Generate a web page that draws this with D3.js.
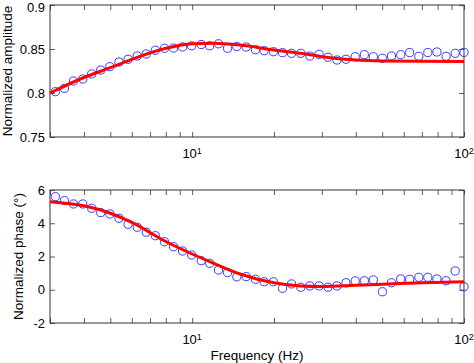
<!DOCTYPE html>
<html>
<head>
<meta charset="utf-8">
<script src="https://cdn.jsdelivr.net/npm/d3@7"></script>
<style>
  body { margin: 0; background: #fff; }
  text { font-family: "Liberation Sans", Arial, sans-serif; fill: #000; }
</style>
</head>
<body>
<div id="chart"></div>
<script>
// measured points (Hz)
var freq = [3.14, 3.39, 3.66, 3.96, 4.27, 4.61, 4.98, 5.38, 5.81, 6.28,
            6.78, 7.32, 7.91, 8.54, 9.22, 9.96, 10.8, 11.6, 12.5, 13.5,
            14.6, 15.8, 17.1, 18.4, 19.9, 21.5, 23.2, 25.1, 27.1, 29.3,
            31.6, 34.1, 36.8, 39.8, 43.0, 46.4, 50.1, 54.1, 58.5, 63.1,
            68.2, 73.6, 79.5, 85.9, 92.8, 100];
var amplitude = [0.8015, 0.8053, 0.8136, 0.8159, 0.8216, 0.8261, 0.8299, 0.8352, 0.8383, 0.8420,
                 0.8443, 0.8486, 0.8508, 0.8511, 0.8523, 0.8536, 0.8551, 0.8537, 0.8559, 0.8508,
                 0.8528, 0.8523, 0.8492, 0.8481, 0.8469, 0.8458, 0.8451, 0.8451, 0.8420, 0.8440,
                 0.8406, 0.8375, 0.8383, 0.8412, 0.8435, 0.8412, 0.8394, 0.8420, 0.8435, 0.8460,
                 0.8417, 0.8460, 0.8466, 0.8417, 0.8451, 0.8462];
var phase = [5.60, 5.36, 5.16, 5.16, 4.90, 4.64, 4.56, 4.30, 3.94, 3.76,
             3.46, 3.25, 2.89, 2.59, 2.33, 2.09, 1.75, 1.59, 1.19, 1.03,
             0.78, 0.79, 0.63, 0.48, 0.48, 0.09, 0.35, 0.15, 0.23, 0.23,
             0.15, 0.23, 0.42, 0.53, 0.54, 0.59, -0.12, 0.42, 0.65, 0.63,
             0.75, 0.75, 0.65, 0.54, 1.13, 0.18];

// model fit
var fitFreq = [3, 4, 5, 6, 8, 10, 12, 15, 20, 25, 30, 40, 50, 70, 100];
var amplitudeFit = [0.800, 0.8176, 0.8288, 0.8383, 0.8508, 0.8560, 0.8565, 0.8545,
                    0.8489, 0.8451, 0.8413, 0.8375, 0.8364, 0.8360, 0.8357];
var phaseFit = [5.30, 5.05, 4.60, 4.05, 2.90, 2.15, 1.59, 0.95,
                0.42, 0.23, 0.20, 0.27, 0.33, 0.42, 0.48];

var freqTicks = [3, 4, 5, 6, 7, 8, 9, 10, 20, 30, 40, 50, 60, 70, 80, 90, 100];
var freqLabelValues = [10, 100];
var freqLabelExps = ["1", "2"];
var ampTicks = [0.75, 0.8, 0.85, 0.9];
var phaseTicks = [-2, 0, 2, 4, 6];

var width = 474;
var height = 363;
var left = 50, right = 464;

var svg = d3.select('#chart').append('svg')
            .attr("width", width)
            .attr("height", height);

var x = d3.scaleLog().domain([3, 100]).range([left, right]);

function drawPanel(top, bottom, yDomain, yTicks, values, fit, ylabel, ylabelX){
    var y = d3.scaleLinear().domain(yDomain).range([bottom, top]);
    var g = svg.append("g");

    // ticks on all four sides, pointing inward
    g.append("g").attr("transform", "translate(0," + bottom + ")")
        .call(d3.axisBottom(x).tickValues(freqTicks).tickSize(-5).tickFormat(""));
    g.append("g").attr("transform", "translate(0," + top + ")")
        .call(d3.axisTop(x).tickValues(freqTicks).tickSize(-5).tickFormat(""));
    g.append("g").attr("transform", "translate(" + left + ",0)")
        .call(d3.axisLeft(y).tickValues(yTicks).tickSize(-5).tickFormat(""));
    g.append("g").attr("transform", "translate(" + right + ",0)")
        .call(d3.axisRight(y).tickValues(yTicks).tickSize(-5).tickFormat(""));
    g.selectAll(".domain").remove();
    g.selectAll(".tick line").attr("stroke", "#333").attr("stroke-width", 0.8);

    g.append("rect")
        .attr("x", left).attr("y", top)
        .attr("width", right - left).attr("height", bottom - top)
        .attr("fill", "none").attr("stroke", "#333").attr("stroke-width", 1);

    // y tick labels (top one kept inside the page, like the original)
    g.selectAll("text.ylab").data(yTicks).enter().append("text")
        .attr("class", "ylab")
        .attr("x", left - 5)
        .attr("y", function(d){ return Math.max(y(d), 7); })
        .attr("dy", "0.36em")
        .attr("text-anchor", "end")
        .style("font-size", "13px")
        .text(function(d){ return String(d); });

    // x tick labels 10^n
    var xl = g.selectAll("text.xlab").data(freqLabelValues).enter().append("text")
        .attr("class", "xlab")
        .attr("x", function(d){ return x(d); })
        .attr("y", bottom + 21)
        .attr("text-anchor", "middle")
        .style("font-size", "13px");
    xl.append("tspan").text("10");
    xl.append("tspan")
        .attr("dy", "-0.5em")
        .style("font-size", "9px")
        .text(function(d, i){ return freqLabelExps[i]; });

    g.append("text")
        .attr("transform", "translate(" + ylabelX + "," + ((top + bottom) / 2) + ") rotate(-90)")
        .attr("text-anchor", "middle")
        .style("font-size", "13.5px")
        .text(ylabel);

    // measured circles
    g.selectAll("circle").data(values).enter().append("circle")
        .attr("cx", function(d, i){ return x(freq[i]); })
        .attr("cy", function(d){ return y(d); })
        .attr("r", 4.1)
        .attr("fill", "none")
        .attr("stroke", "#2626ff")
        .attr("stroke-width", 0.9);

    // fitted curve
    var line = d3.line()
        .x(function(d, i){ return x(fitFreq[i]); })
        .y(function(d){ return y(d); })
        .curve(d3.curveMonotoneX);
    g.append("path")
        .datum(fit)
        .attr("d", line)
        .attr("fill", "none")
        .attr("stroke", "#ff0000")
        .attr("stroke-width", 3);
}

drawPanel(5, 137, [0.75, 0.9], ampTicks, amplitude, amplitudeFit, "Normalized amplitude", 11.5);
drawPanel(190, 323, [-2, 6], phaseTicks, phase, phaseFit, "Normalized phase (\u00b0)", 22.5);

svg.append("text")
    .attr("x", (left + right) / 2)
    .attr("y", 360)
    .attr("text-anchor", "middle")
    .style("font-size", "13.5px")
    .text("Frequency (Hz)");
</script>
</body>
</html>
